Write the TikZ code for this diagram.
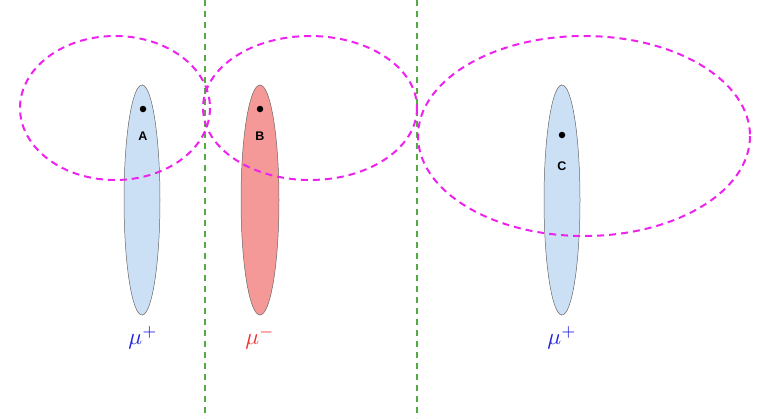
\documentclass[tikz,border=0pt]{standalone}
\usepackage{fontspec}
\setsansfont{Liberation Sans}
\begin{document}
\begin{tikzpicture}[x=1pt,y=-1pt,
  blob/.style={draw=black!60,line width=0.5pt},
  circ/.style={draw=mg,line width=2pt,dash pattern=on 7pt off 5pt},
  sep/.style={draw=gr,line width=1.5pt,dash pattern=on 6pt off 5pt},
  pt/.style={circle,fill=black,inner sep=0pt,minimum size=6.5pt},
  lab/.style={font=\sffamily\bfseries\fontsize{12.5}{14}\selectfont},
  mu/.style={scale=2.3}]
\useasboundingbox (0,0) rectangle (766,418);
\definecolor{lb}{HTML}{CCE0F5}
\definecolor{lr}{HTML}{F59898}
\definecolor{mg}{HTML}{EE22EE}
\definecolor{gr}{HTML}{55AA44}
\definecolor{mublue}{HTML}{2222DD}
\definecolor{mured}{HTML}{EE3333}
\coordinate (g1t) at (205,0); \coordinate (g1b) at (205,418);
\coordinate (g2t) at (417,0); \coordinate (g2b) at (417,418);
\draw[sep] (g1t) -- (g1b);
\draw[sep] (g2t) -- (g2b);
\draw[blob,fill=lb] (142,200) ellipse [x radius=18, y radius=115];
\draw[blob,fill=lr] (260,200) ellipse [x radius=19, y radius=115];
\draw[blob,fill=lb] (562,200) ellipse [x radius=18, y radius=115];
\node[pt] (a) at (143,109) {};
\node[pt] (b) at (260,109) {};
\node[pt] (c) at (562,135) {};
\node[lab] (la) at (143,136) {A};
\node[lab] (lb) at (260,136) {B};
\node[lab] (lc) at (562,166) {C};
\draw[circ] (115,108) ellipse [x radius=95, y radius=72];
\draw[circ] (310,108) ellipse [x radius=107, y radius=72];
\draw[circ] (584,136) ellipse [x radius=166, y radius=100];
\node[mu,text=mublue] (m1) at (143,338) {$\mu^+$};
\node[mu,text=mured] (m2) at (260,338) {$\mu^-$};
\node[mu,text=mublue] (m3) at (562,338) {$\mu^+$};
\end{tikzpicture}
\end{document}
